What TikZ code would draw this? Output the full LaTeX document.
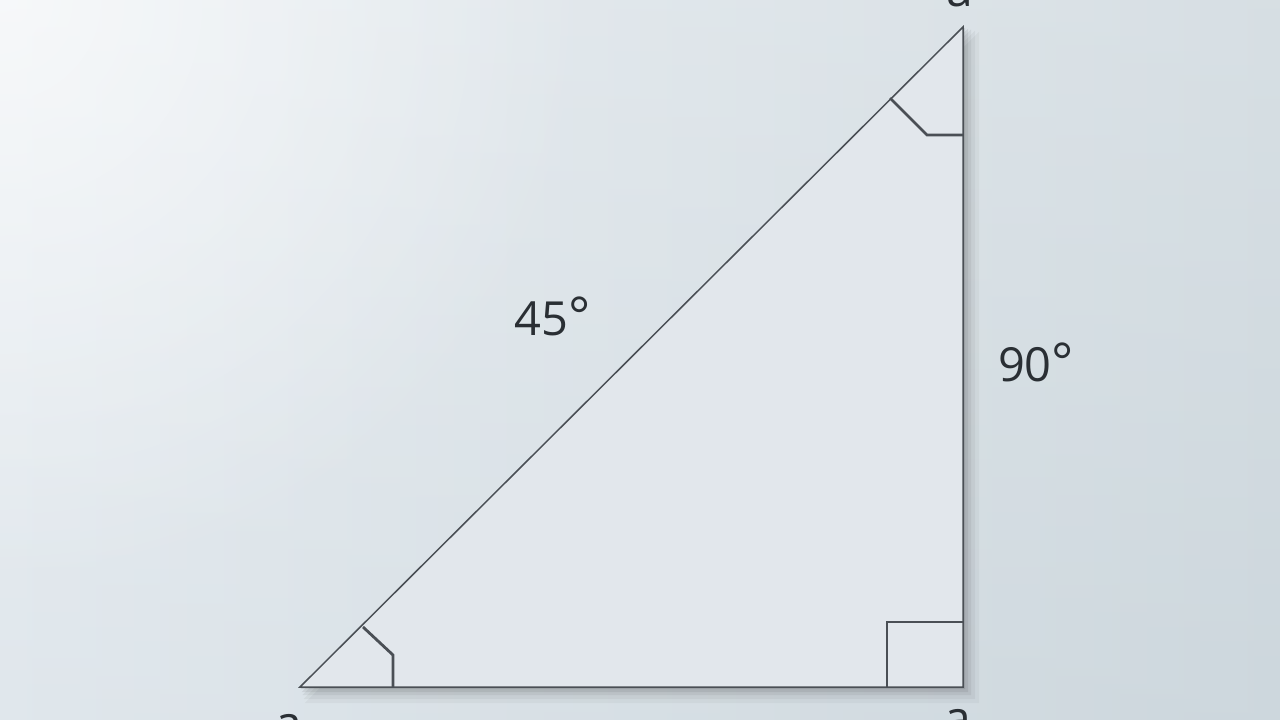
\documentclass[tikz,border=0pt]{standalone}
\usepackage{fontspec}
\setmainfont{Open Sans}
\usetikzlibrary{calc,fadings}
\definecolor{bgA}{HTML}{E5EBF0}
\definecolor{bgB}{HTML}{CDD7DD}
\definecolor{triFill}{HTML}{E2E7EC}
\definecolor{lineC}{HTML}{4A4F55}
\definecolor{txtC}{HTML}{2A2F34}
\tikzfading[name=radfade, inner color=transparent!0, outer color=transparent!100]
\tikzset{
  edge/.style={draw=lineC, line width=1.5pt, line join=miter},
  anglemark/.style={draw=lineC, line width=2.8pt, line join=miter},
  lbl/.style={text=txtC, font=\fontsize{47}{50}\selectfont, inner sep=0pt},
  vlbl/.style={text=txtC, font=\fontsize{48}{50}\selectfont, inner sep=0pt}
}
\begin{document}
\begin{tikzpicture}[x=1pt,y=-1pt]
\useasboundingbox (0,0) rectangle (1280,720);
\shade[left color=bgA, right color=bgB] (0,0) rectangle (1280,720);
\shade[top color=white, bottom color=bgB, opacity=0.2] (0,0) rectangle (1280,720);
\begin{scope}
\clip (0,0) rectangle (1280,720);
\fill[white, opacity=0.6, path fading=radfade] (-600,-600) rectangle (600,600);
\end{scope}
% vertices
\coordinate (A) at (300,687);
\coordinate (B) at (963,687);
\coordinate (C) at (963,27);
% shadow
\foreach \d/\o in {16/0.035,12/0.045,8/0.055,5/0.07,2/0.1}{
  \fill[black, opacity=\o] ($(A)+(\d*0.3,\d)$) -- ($(B)+(\d,\d)$) -- ($(C)+(\d,\d*0.3)$) -- cycle;
}
% triangle
\fill[triFill] (A) -- (B) -- (C) -- cycle;
% angle marks
\coordinate (m1) at (363,627);
\coordinate (m2) at (393,655);
\coordinate (m3) at (393,687);
\draw[anglemark] (m1) -- (m2) -- (m3);
\coordinate (t1) at (890,98);
\coordinate (t2) at (927,135);
\coordinate (t3) at (963,135);
\draw[anglemark] (t1) -- (t2) -- (t3);
\coordinate (r1) at (887,687);
\coordinate (r2) at (887,622);
\coordinate (r3) at (963,622);
\draw[anglemark] (r1) -- (r2) -- (r3);
\draw[edge] (A) -- (B) -- (C) -- cycle;
% labels
\node[lbl] (l45) at (553,316) {45\raisebox{0.02em}{\fontsize{52}{50}\selectfont°}};
\node[lbl] (l90) at (1036,362) {90\raisebox{0.02em}{\fontsize{52}{50}\selectfont°}};
\node[vlbl, anchor=base] (va) at (960,6) {a};
\node[vlbl, anchor=north] (vb) at (289,714) {a};
\node[vlbl, anchor=north] (vc) at (958,709) {a};
\end{tikzpicture}
\end{document}
